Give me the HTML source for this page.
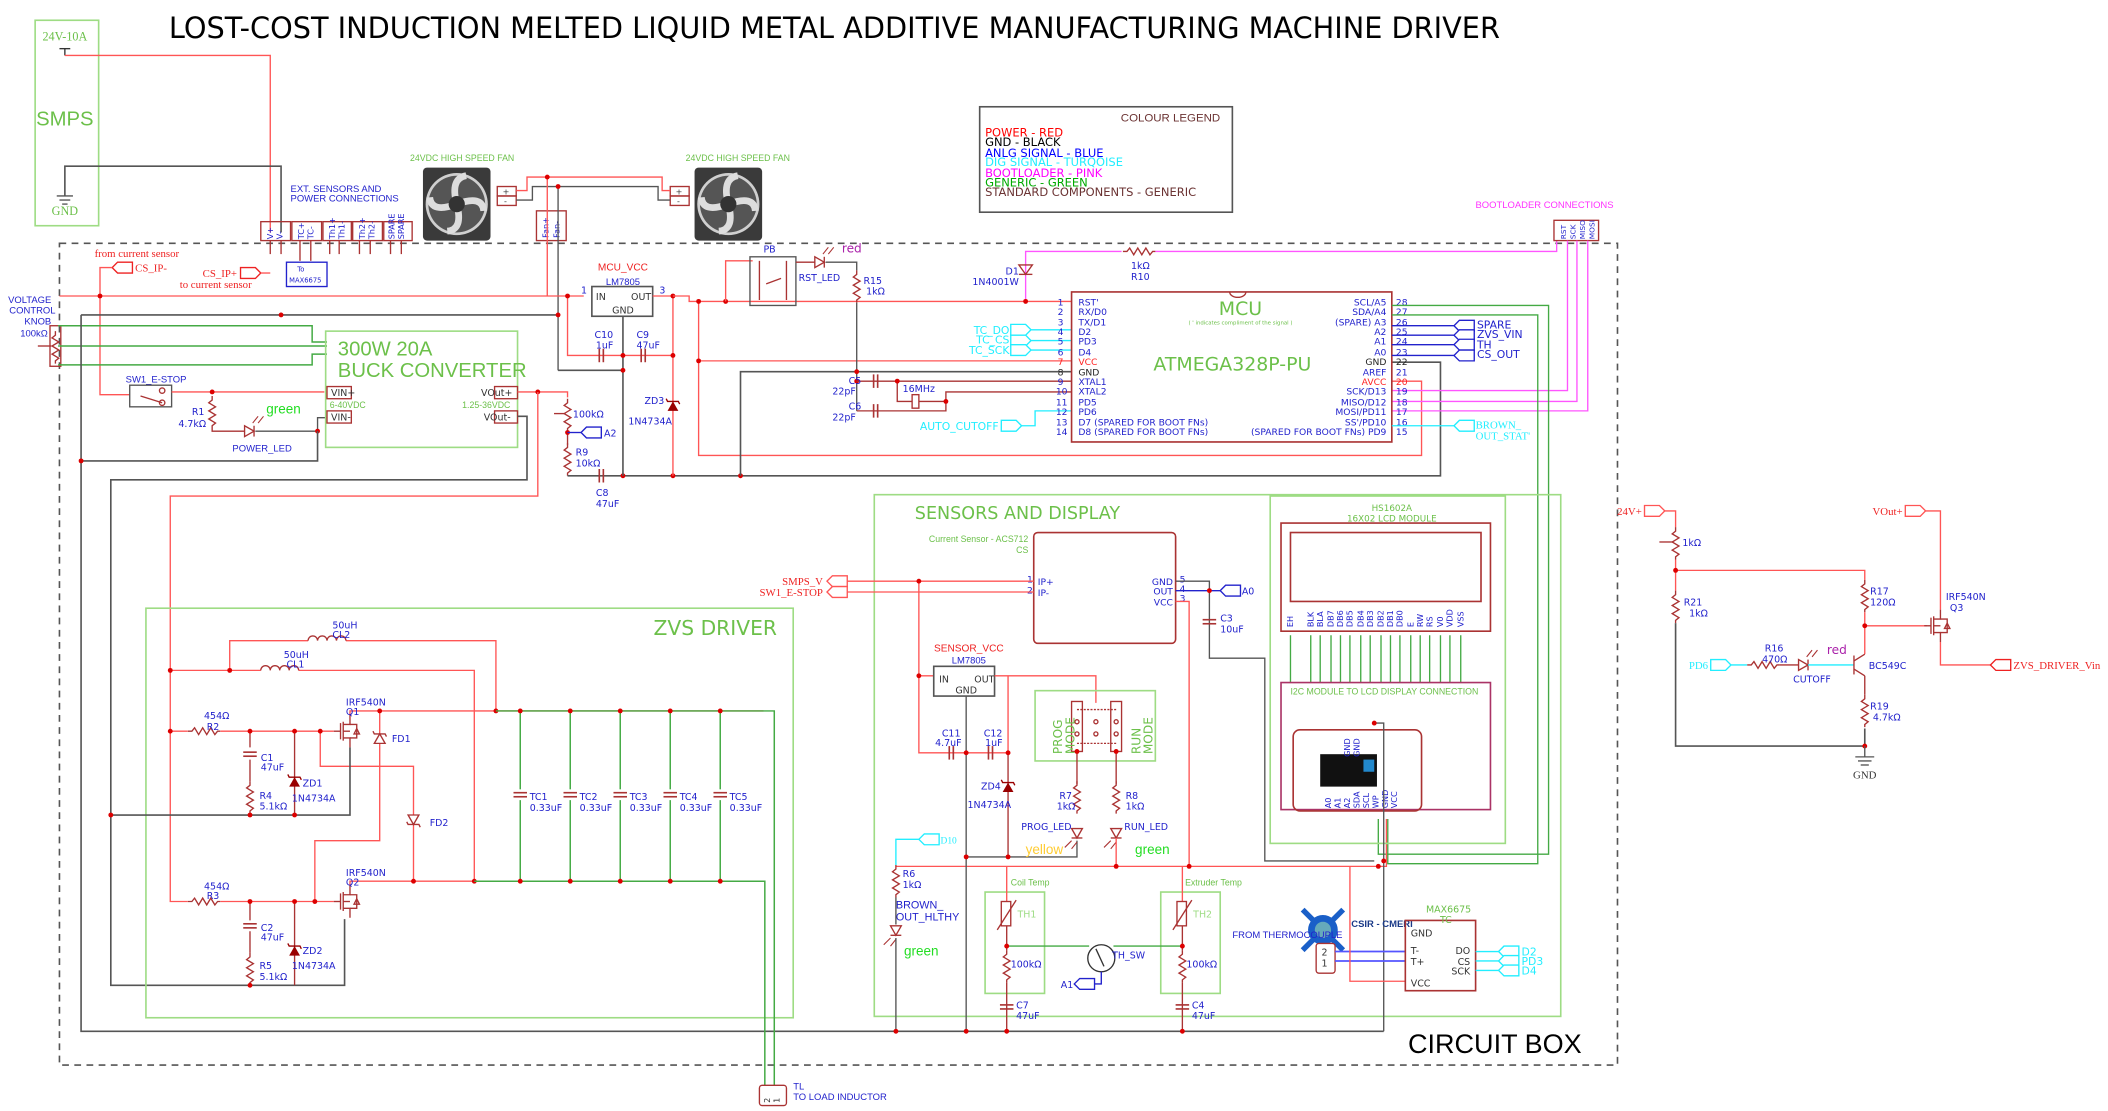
<!DOCTYPE html>
<html><head><meta charset="utf-8"><style>
html,body{margin:0;padding:0;background:#fff;}
svg{display:block;}
text{font-family:"DejaVu Sans","Liberation Sans",sans-serif;}
.s{font-family:"Liberation Serif",serif;}
.n{font-family:"Liberation Sans Narrow","Liberation Sans",sans-serif;}
</style></head><body>
<svg width="2108" height="1111" viewBox="0 0 1560 822" preserveAspectRatio="none" xmlns="http://www.w3.org/2000/svg">
<defs>
<polyline id="rv" points="0,0 0,3 -2.5,5 2.5,8 -2.5,11 2.5,14 -2.5,17 2.5,20 0,22 0,24" fill="none" stroke="#a33" stroke-width="1"/>
<polyline id="rh" points="0,0 3,0 5,-2.5 8,2.5 11,-2.5 14,2.5 17,-2.5 20,2.5 22,0 24,0" fill="none" stroke="#a33" stroke-width="1"/>
<g id="ch" stroke="#a33" stroke-width="1.2"><line x1="-1.5" y1="-5" x2="-1.5" y2="5"/><line x1="1.5" y1="-5" x2="1.5" y2="5"/></g>
<g id="cv" stroke="#a33" stroke-width="1.2"><line x1="-5" y1="-1.5" x2="5" y2="-1.5"/><line x1="-5" y1="1.5" x2="5" y2="1.5"/></g>
<g id="zd"><polygon points="-4,4 4,4 0,-3" fill="#900"/><polyline points="-5,-5 -4,-3 4,-3 5,-1" fill="none" stroke="#900" stroke-width="1"/></g>
<g id="led"><polygon points="-4,-4 -4,4 3,0" fill="none" stroke="#a33"/><line x1="3" y1="-4" x2="3" y2="4" stroke="#a33"/><line x1="2" y1="-6" x2="6" y2="-11" stroke="#a33" stroke-width=".8"/><line x1="6" y1="-6" x2="10" y2="-11" stroke="#a33" stroke-width=".8"/></g>
<g id="ledv"><polygon points="-4,-3 4,-3 0,4" fill="none" stroke="#a33"/><line x1="-4" y1="4" x2="4" y2="4" stroke="#a33"/><line x1="-4" y1="6" x2="-9" y2="11" stroke="#a33" stroke-width=".8"/><line x1="0" y1="7" x2="-4" y2="12" stroke="#a33" stroke-width=".8"/></g>
<g id="mos" fill="none" stroke="#a33" stroke-width="1"><line x1="-8" y1="0" x2="-3" y2="0"/><line x1="-3" y1="-6" x2="-3" y2="6"/><line x1="-1" y1="-7" x2="-1" y2="7"/><polyline points="-1,-5 4,-5 4,-12"/><polyline points="-1,5 4,5 4,12"/><line x1="-1" y1="0" x2="4" y2="0"/><polyline points="4,-5 9,-5 9,5 4,5"/><polygon points="7,2 11,2 9,-2"/></g>
<g id="tag"><polygon points="0,-4 11,-4 15,0 11,4 0,4" fill="#fff"/></g>
<g id="tagl"><polygon points="15,-4 4,-4 0,0 4,4 15,4" fill="#fff"/></g>
<g id="fan"><rect x="0" y="0" width="50" height="54" rx="3" fill="#3a3a3a"/><circle cx="25" cy="27" r="23" fill="#cfcfcf"/><circle cx="25" cy="27" r="21" fill="#555"/><path d="M25 27 Q20 8 32 6 M25 27 Q44 20 45 32 M25 27 Q30 46 18 47 M25 27 Q6 34 5 22" stroke="#ddd" stroke-width="5" fill="none"/><circle cx="25" cy="27" r="6" fill="#333"/></g>
</defs>

<text x="125" y="28" font-size="22" textLength="985" lengthAdjust="spacingAndGlyphs" fill="#000">LOST-COST INDUCTION MELTED LIQUID METAL ADDITIVE MANUFACTURING MACHINE DRIVER</text>

<rect x="26" y="15" width="47" height="152" fill="none" stroke="#9edc84" stroke-width="1.2"/>
<text x="48" y="30" class="s" font-size="9" fill="#6cc04a" text-anchor="middle">24V-10A</text>
<text x="48" y="93" font-size="15" fill="#6cc04a" text-anchor="middle" class="n">SMPS</text>
<text x="48" y="159" class="s" font-size="9" fill="#6cc04a" text-anchor="middle">GND</text>
<line x1="44" y1="36" x2="52" y2="36" stroke="#333"/><line x1="48" y1="36" x2="48" y2="41" stroke="#333"/>
<polyline points="48,41 200,41 200,172" fill="none" stroke="#f55" stroke-width="1"/>
<polyline points="48,145 48,123 208,123 208,172" fill="none" stroke="#555" stroke-width="1.2"/>
<g stroke="#555"><line x1="42" y1="145" x2="54" y2="145"/><line x1="44" y1="148" x2="52" y2="148"/><line x1="46" y1="151" x2="50" y2="151"/></g>

<rect x="44" y="180" width="1153" height="608" fill="none" stroke="#555" stroke-width="1.2" stroke-dasharray="5,4"/>
<text x="1042" y="779" font-size="20" class="n" fill="#000">CIRCUIT BOX</text>

<rect x="725" y="79" width="187" height="78" fill="none" stroke="#555" stroke-width="1.2"/>
<text x="903" y="90" font-size="8.5" fill="#6b3333" text-anchor="end" class="n">COLOUR LEGEND</text>
<g font-size="8.5" class="n">
<text x="729" y="101" fill="#f00">POWER - RED</text>
<text x="729" y="108" fill="#000">GND - BLACK</text>
<text x="729" y="116" fill="#00f">ANLG SIGNAL - BLUE</text>
<text x="729" y="123" fill="#2ef">DIG SIGNAL - TURQOISE</text>
<text x="729" y="131" fill="#f0f">BOOTLOADER - PINK</text>
<text x="729" y="138" fill="#0a0">GENERIC - GREEN</text>
<text x="729" y="145" fill="#6b3333">STANDARD COMPONENTS - GENERIC</text>
</g>

<text x="215" y="142" font-size="7" fill="#22c" class="n">EXT. SENSORS AND</text>
<text x="215" y="149" font-size="7" fill="#22c" class="n">POWER CONNECTIONS</text>
<g fill="none" stroke="#a33"><rect x="193" y="164" width="22" height="14"/><rect x="216" y="164" width="22" height="14"/><rect x="239" y="164" width="21" height="14"/><rect x="261" y="164" width="22" height="14"/><rect x="284" y="164" width="21" height="14"/></g>
<g font-size="6" fill="#22c">
<text transform="translate(202,177) rotate(-90)">V+</text><text transform="translate(209,177) rotate(-90)">V-</text>
<text transform="translate(225,177) rotate(-90)">TC+</text><text transform="translate(232,177) rotate(-90)">TC-</text>
<text transform="translate(248,177) rotate(-90)">Th1+</text><text transform="translate(255,177) rotate(-90)">Th1-</text>
<text transform="translate(270,177) rotate(-90)">Th2+</text><text transform="translate(277,177) rotate(-90)">Th2-</text>
<text transform="translate(292,177) rotate(-90)">SPARE</text><text transform="translate(299,177) rotate(-90)">SPARE</text>
</g>
<g stroke="#a33"><line x1="200" y1="178" x2="200" y2="188"/><line x1="208" y1="178" x2="208" y2="188"/><line x1="222" y1="178" x2="222" y2="193"/><line x1="230" y1="178" x2="230" y2="193"/><line x1="244" y1="178" x2="244" y2="188"/><line x1="251" y1="178" x2="251" y2="188"/><line x1="266" y1="178" x2="266" y2="188"/><line x1="274" y1="178" x2="274" y2="188"/><line x1="289" y1="178" x2="289" y2="188"/><line x1="297" y1="178" x2="297" y2="188"/></g>
<rect x="212" y="194" width="30" height="18" fill="none" stroke="#22c"/>
<text x="220" y="201" font-size="5" fill="#22c">To</text><text x="214" y="209" font-size="5" fill="#22c">MAX6675</text>

<use href="#fan" x="313" y="124"/><use href="#fan" x="514" y="124"/>
<text x="342" y="119" font-size="6.5" fill="#6cc04a" text-anchor="middle" class="n">24VDC HIGH SPEED FAN</text>
<text x="546" y="119" font-size="6.5" fill="#6cc04a" text-anchor="middle" class="n">24VDC HIGH SPEED FAN</text>
<g fill="none" stroke="#a33"><rect x="368" y="138" width="14" height="7"/><rect x="368" y="145" width="14" height="7"/><rect x="496" y="138" width="14" height="7"/><rect x="496" y="145" width="14" height="7"/><rect x="397" y="156" width="22" height="22"/></g>
<g font-size="6" fill="#333"><text x="372" y="144">+</text><text x="373" y="151">-</text><text x="500" y="144">+</text><text x="501" y="151">-</text></g>
<text transform="translate(406,176) rotate(-90)" font-size="6" fill="#22c">Fan+</text><text transform="translate(414,176) rotate(-90)" font-size="6" fill="#22c">Fan-</text>
<polyline points="382,141 390,141 390,131 490,131 490,141 496,141" fill="none" stroke="#f55"/>
<polyline points="382,148 394,148 394,138 487,138 487,148 496,148" fill="none" stroke="#555"/>
<line x1="405" y1="131" x2="405" y2="219" stroke="#f55"/>
<line x1="413" y1="138" x2="413" y2="274" stroke="#555"/>
<circle cx="405" cy="131" r="1.8" fill="#d00"/><circle cx="413" cy="138" r="1.8" fill="#d00"/>

<text x="70" y="190" font-size="8" fill="#e22" class="s">from current sensor</text>
<use href="#tagl" x="83" y="198" fill="none" stroke="#e22"/>
<text x="100" y="201" font-size="8" fill="#e22" class="s">CS_IP-</text>
<use href="#tag" x="178" y="202" stroke="#e22"/>
<text x="150" y="205" font-size="8" fill="#e22" class="s">CS_IP+</text>
<text x="133" y="213" font-size="8" fill="#e22" class="s">to current sensor</text>
<line x1="193" y1="202" x2="200" y2="202" stroke="#f55"/>
<polyline points="83,198 74,198 74,292 96,292" fill="none" stroke="#f55"/>
<text x="22" y="224" font-size="7" fill="#22c" text-anchor="middle" class="n">VOLTAGE</text>
<text x="24" y="232" font-size="7" fill="#22c" text-anchor="middle" class="n">CONTROL</text>
<text x="28" y="240" font-size="7" fill="#22c" text-anchor="middle" class="n">KNOB</text>
<text x="15" y="249" font-size="7" fill="#22c" class="n">100kΩ</text>
<rect x="37" y="241" width="8" height="30" fill="none" stroke="#a33"/>
<use href="#rv" x="41" y="245"/><line x1="28" y1="256" x2="38" y2="256" stroke="#a33"/>
<g fill="none" stroke="#4a4" stroke-width="1.1"><polyline points="43,241 231,241 231,253 242,253"/><polyline points="43,256 242,256"/><polyline points="43,270 231,270 231,262 242,262"/></g>
<line x1="44" y1="219" x2="432" y2="219" stroke="#f55"/>
<circle cx="74" cy="219" r="1.8" fill="#d00"/>
<line x1="60" y1="233" x2="413" y2="233" stroke="#555" stroke-width="1.2"/>
<circle cx="208" cy="233" r="1.8" fill="#d00"/><circle cx="413" cy="233" r="1.8" fill="#d00"/>
<polyline points="60,233 60,763 1024,763" fill="none" stroke="#555" stroke-width="1.2"/>

<text x="93" y="283" font-size="7" fill="#22c" class="n">SW1_E-STOP</text>
<rect x="96" y="285" width="31" height="16" fill="none" stroke="#555"/>
<circle cx="120" cy="289" r="2" fill="none" stroke="#a33"/><circle cx="120" cy="298" r="2" fill="none" stroke="#a33"/><line x1="104" y1="293" x2="120" y2="298" stroke="#a33"/>
<line x1="127" y1="290" x2="240" y2="290" stroke="#f55"/><circle cx="157" cy="290" r="1.8" fill="#d00"/>
<use href="#rv" x="157" y="293"/>
<text x="142" y="307" font-size="7" fill="#22c">R1</text><text x="132" y="316" font-size="7" fill="#22c">4.7kΩ</text>
<polyline points="157,317 157,319 181,319" fill="none" stroke="#a33"/><use href="#led" x="185" y="319"/>
<polyline points="189,319 235,319 235,309 242,309" fill="none" stroke="#555"/><circle cx="235" cy="319" r="1.8" fill="#d00"/>
<text x="197" y="306" font-size="10" fill="#2d2" class="n">green</text>
<text x="172" y="334" font-size="7" fill="#22c" class="n">POWER_LED</text>
<polyline points="60,341 235,341 235,319" fill="none" stroke="#555" stroke-width="1.2"/>
<circle cx="60" cy="341" r="1.8" fill="#d00"/>

<rect x="241" y="245" width="142" height="86" fill="none" stroke="#9edc84" stroke-width="1.2"/>
<text x="250" y="263" font-size="15" fill="#6cc04a" class="n">300W 20A</text>
<text x="250" y="279" font-size="15" fill="#6cc04a" class="n">BUCK CONVERTER</text>
<g fill="none" stroke="#a33"><rect x="242" y="286" width="18" height="9"/><rect x="242" y="304" width="18" height="9"/><rect x="366" y="286" width="17" height="9"/><rect x="366" y="304" width="17" height="9"/></g>
<g font-size="7" fill="#333" class="n"><text x="245" y="293">VIN+</text><text x="245" y="311">VIN-</text><text x="356" y="293">VOut+</text><text x="358" y="311">VOut-</text></g>
<text x="244" y="302" font-size="6.5" fill="#6cc04a" class="n">6-40VDC</text>
<text x="342" y="302" font-size="6.5" fill="#6cc04a" class="n">1.25-36VDC</text>
<polyline points="383,290 420,290 420,294" fill="none" stroke="#f55"/><circle cx="398" cy="290" r="1.8" fill="#d00"/>
<polyline points="398,290 398,367 126,367 126,667 139,667" fill="none" stroke="#f55"/>
<polyline points="383,308 390,308 390,355 82,355 82,729 255,729 255,680" fill="none" stroke="#555" stroke-width="1.2"/>
<use href="#rv" x="420" y="295"/><line x1="410" y1="306" x2="418" y2="306" stroke="#a33"/>
<text x="424" y="309" font-size="7" fill="#22c">100kΩ</text>
<line x1="420" y1="319" x2="420" y2="329" stroke="#a33"/><circle cx="420" cy="320" r="1.8" fill="#d00"/>
<line x1="420" y1="320" x2="430" y2="320" stroke="#22c"/><use href="#tagl" x="430" y="320" fill="none" stroke="#22c"/>
<text x="447" y="323" font-size="7" fill="#22c">A2</text>
<use href="#rv" x="420" y="328"/><text x="426" y="337" font-size="7" fill="#22c">R9</text><text x="426" y="345" font-size="7" fill="#22c">10kΩ</text>
<polyline points="420,352 1066,352 1066,268 1030,268" fill="none" stroke="#555" stroke-width="1.2"/>
<use href="#ch" x="445" y="352"/><text x="441" y="367" font-size="7" fill="#22c">C8</text><text x="441" y="375" font-size="7" fill="#22c">47uF</text>
<circle cx="461" cy="352" r="1.8" fill="#d00"/><circle cx="498" cy="352" r="1.8" fill="#d00"/><circle cx="548" cy="352" r="1.8" fill="#d00"/>

<text x="461" y="200" font-size="7.5" fill="#e22" text-anchor="middle" class="n">MCU_VCC</text>
<text x="461" y="211" font-size="7" fill="#22c" text-anchor="middle" class="n">LM7805</text>
<rect x="438" y="212" width="45" height="22" fill="#fff" stroke="#555" stroke-width="1.2"/>
<g font-size="7" fill="#333"><text x="441" y="222">IN</text><text x="467" y="222">OUT</text><text x="453" y="232">GND</text></g>
<text x="430" y="217" font-size="7" fill="#22c">1</text><text x="488" y="217" font-size="7" fill="#22c">3</text>
<polyline points="413,274 461,274 461,234" fill="none" stroke="#555" stroke-width="1.2"/>
<line x1="461" y1="274" x2="461" y2="352" stroke="#555" stroke-width="1.2"/>
<polyline points="483,219 498,219 498,352" fill="none" stroke="#f55"/>
<polyline points="420,219 420,263 498,263" fill="none" stroke="#f55"/>
<use href="#ch" x="445" y="263"/><use href="#ch" x="476" y="263"/>
<text x="440" y="250" font-size="7" fill="#22c">C10</text><text x="441" y="258" font-size="7" fill="#22c">1uF</text>
<text x="471" y="250" font-size="7" fill="#22c">C9</text><text x="471" y="258" font-size="7" fill="#22c">47uF</text>
<use href="#zd" x="498" y="300"/>
<text x="477" y="299" font-size="7" fill="#22c">ZD3</text><text x="465" y="314" font-size="7" fill="#22c">1N4734A</text>
<circle cx="420" cy="219" r="1.8" fill="#d00"/><circle cx="498" cy="219" r="1.8" fill="#d00"/><circle cx="461" cy="263" r="1.8" fill="#d00"/><circle cx="498" cy="263" r="1.8" fill="#d00"/><circle cx="461" cy="274" r="1.8" fill="#d00"/>

<polyline points="498,219 510,219 510,223 793,223" fill="none" stroke="#f55"/>
<polyline points="517,223 517,337 1052,337 1052,282 1030,282" fill="none" stroke="#f55"/>
<line x1="517" y1="267" x2="793" y2="267" stroke="#f55"/>
<circle cx="517" cy="223" r="1.8" fill="#d00"/><circle cx="537" cy="223" r="1.8" fill="#d00"/><circle cx="517" cy="267" r="1.8" fill="#d00"/>
<polyline points="537,223 537,193 557,193" fill="none" stroke="#f55"/>
<rect x="555" y="190" width="34" height="36" fill="none" stroke="#555"/>
<text x="565" y="187" font-size="7" fill="#22c">PB</text>
<path d="M562,193 L562,222 M582,193 L582,222" fill="none" stroke="#a33"/>
<line x1="567" y1="210" x2="578" y2="206" stroke="#a33"/>
<line x1="589" y1="194" x2="603" y2="194" stroke="#a33"/><use href="#led" x="607" y="194"/>
<text x="591" y="208" font-size="7" fill="#22c">RST_LED</text><text x="623" y="187" font-size="9" fill="#a2a">red</text>
<polyline points="611,194 634,194 634,200" fill="none" stroke="#555"/>
<use href="#rv" x="634" y="200"/><text x="639" y="210" font-size="7" fill="#22c">R15</text><text x="641" y="218" font-size="7" fill="#22c">1kΩ</text>
<line x1="634" y1="224" x2="634" y2="304" stroke="#555"/>
<polyline points="548,352 548,275 793,275" fill="none" stroke="#555" stroke-width="1.2"/>
<circle cx="634" cy="275" r="1.8" fill="#d00"/><circle cx="634" cy="282" r="1.8" fill="#d00"/>
<line x1="634" y1="282" x2="793" y2="282" stroke="#a33"/><use href="#ch" x="648" y="282"/>
<polyline points="634,304 700,304 700,290 793,290" fill="none" stroke="#a33"/><use href="#ch" x="648" y="304"/>
<polyline points="664,282 664,297 700,297" fill="none" stroke="#a33"/>
<rect x="675" y="292" width="5" height="10" fill="#fff" stroke="#a33"/>
<circle cx="664" cy="282" r="1.8" fill="#d00"/><circle cx="700" cy="297" r="1.8" fill="#d00"/>
<text x="628" y="284" font-size="7" fill="#22c">C5</text><text x="616" y="292" font-size="7" fill="#22c">22pF</text>
<text x="628" y="303" font-size="7" fill="#22c">C6</text><text x="616" y="311" font-size="7" fill="#22c">22pF</text>
<text x="668" y="290" font-size="7" fill="#22c">16MHz</text>
<g font-size="8" fill="#2ef" class="s" text-anchor="end"><text x="747" y="247">TC_DO</text><text x="747" y="254">TC_CS</text><text x="747" y="262">TC_SCK</text><text x="739" y="318">AUTO_CUTOFF</text></g>
<g fill="none" stroke="#2ef"><use href="#tag" x="748" y="244"/><use href="#tag" x="748" y="252"/><use href="#tag" x="748" y="259"/><use href="#tag" x="741" y="315"/>
<path d="M763,244 L793,244 M763,252 L793,252 M763,259 L793,259"/><polyline points="756,315 766,315 766,304 793,304"/></g>

<polyline points="759,223 759,186 1152,186 1152,178" fill="none" stroke="#f5f"/>
<polygon points="754,196 764,196 759,203" fill="none" stroke="#a33"/><line x1="754" y1="203" x2="764" y2="203" stroke="#a33"/>
<circle cx="759" cy="223" r="1.8" fill="#d00"/>
<text x="754" y="203" font-size="7" fill="#22c" text-anchor="end">D1</text><text x="754" y="211" font-size="7" fill="#22c" text-anchor="end">1N4001W</text>
<rect x="830" y="182" width="25" height="8" fill="#fff"/><use href="#rh" x="831" y="186"/>
<text x="837" y="199" font-size="7" fill="#22c">1kΩ</text><text x="837" y="207" font-size="7" fill="#22c">R10</text>
<text x="1143" y="154" font-size="7" fill="#f3f" text-anchor="middle" class="n">BOOTLOADER CONNECTIONS</text>
<rect x="1150" y="163" width="33" height="15" fill="none" stroke="#a33"/>
<g font-size="5.5" fill="#22c"><text transform="translate(1159,177) rotate(-90)">RST</text><text transform="translate(1166,177) rotate(-90)">SCK</text><text transform="translate(1173,177) rotate(-90)">MISO</text><text transform="translate(1180,177) rotate(-90)">MOSI</text></g>
<g fill="none" stroke="#f5f"><polyline points="1160,178 1160,289 1030,289"/><polyline points="1167,178 1167,297 1030,297"/><polyline points="1175,178 1175,304 1030,304"/></g>

<rect x="793" y="216" width="237" height="111" fill="#fff" stroke="#a33" stroke-width="1.2"/>
<path d="M910 216 A6 4 0 0 0 922 216" fill="none" stroke="#a33"/>
<text x="918" y="233" font-size="14" fill="#6cc04a" text-anchor="middle">MCU</text>
<text x="918" y="240" font-size="4" fill="#6cc04a" text-anchor="middle">( ' indicates compliment of the signal )</text>
<text x="912" y="274" font-size="14" fill="#6cc04a" text-anchor="middle">ATMEGA328P-PU</text>
<g font-size="6.8" fill="#22c">
<text x="798" y="226">RST'</text><text x="798" y="233">RX/D0</text><text x="798" y="241">TX/D1</text><text x="798" y="248">D2</text><text x="798" y="255">PD3</text><text x="798" y="263">D4</text><text x="798" y="270" fill="#f22">VCC</text><text x="798" y="278" fill="#222">GND</text><text x="798" y="285">XTAL1</text><text x="798" y="292">XTAL2</text><text x="798" y="300">PD5</text><text x="798" y="307">PD6</text><text x="798" y="315">D7 (SPARED FOR BOOT FNs)</text><text x="798" y="322">D8 (SPARED FOR BOOT FNs)</text>
</g>
<g font-size="6.8" fill="#22c" text-anchor="end">
<text x="787" y="226">1</text><text x="787" y="233">2</text><text x="787" y="241">3</text><text x="787" y="248">4</text><text x="787" y="255">5</text><text x="787" y="263">6</text><text x="787" y="270" fill="#f22">7</text><text x="787" y="278" fill="#222">8</text><text x="787" y="285">9</text><text x="790" y="292">10</text><text x="790" y="300">11</text><text x="790" y="307">12</text><text x="790" y="315">13</text><text x="790" y="322">14</text>
</g>
<g font-size="6.8" fill="#22c" text-anchor="end">
<text x="1026" y="226">SCL/A5</text><text x="1026" y="233">SDA/A4</text><text x="1026" y="241">(SPARE) A3</text><text x="1026" y="248">A2</text><text x="1026" y="255">A1</text><text x="1026" y="263">A0</text><text x="1026" y="270" fill="#222">GND</text><text x="1026" y="278">AREF</text><text x="1026" y="285" fill="#f22">AVCC</text><text x="1026" y="292">SCK/D13</text><text x="1026" y="300">MISO/D12</text><text x="1026" y="307">MOSI/PD11</text><text x="1026" y="315">SS'/PD10</text><text x="1026" y="322">(SPARED FOR BOOT FNs) PD9</text>
</g>
<g font-size="6.8" fill="#22c"><text x="1033" y="226">28</text><text x="1033" y="233">27</text><text x="1033" y="241">26</text><text x="1033" y="248">25</text><text x="1033" y="255">24</text><text x="1033" y="263">23</text><text x="1033" y="270" fill="#222">22</text><text x="1033" y="278">21</text><text x="1033" y="285" fill="#f22">20</text><text x="1033" y="292">19</text><text x="1033" y="300">18</text><text x="1033" y="307">17</text><text x="1033" y="315">16</text><text x="1033" y="322">15</text></g>
<g stroke="#22c" fill="none"><path d="M1030,241 L1078,241 M1030,248 L1078,248 M1030,255 L1078,255 M1030,263 L1078,263"/>
<use href="#tagl" x="1076" y="241"/><use href="#tagl" x="1076" y="248"/><use href="#tagl" x="1076" y="255"/><use href="#tagl" x="1076" y="263"/></g>
<g font-size="8" fill="#22c" class="s"><text x="1093" y="243">SPARE</text><text x="1093" y="250">ZVS_VIN</text><text x="1093" y="258">TH</text><text x="1093" y="265">CS_OUT</text></g>
<line x1="1030" y1="315" x2="1076" y2="315" stroke="#2ef"/><use href="#tagl" x="1076" y="315" fill="none" stroke="#2ef"/>
<text x="1092" y="317" font-size="8" fill="#2ef" class="s">BROWN_</text><text x="1092" y="325" font-size="8" fill="#2ef" class="s">OUT_STAT'</text>
<polyline points="1030,226 1146,226 1146,632 1020,632 1020,606" fill="none" stroke="#4a4"/>
<polyline points="1030,233 1138,233 1138,639 1027,639 1027,606" fill="none" stroke="#4a4"/>

<rect x="647" y="366" width="508" height="386" fill="none" stroke="#9edc84" stroke-width="1.2"/>
<text x="677" y="384" font-size="13" fill="#6cc04a">SENSORS AND DISPLAY</text>
<text x="761" y="401" font-size="6.5" fill="#6cc04a" text-anchor="end" class="n">Current Sensor - ACS712</text>
<text x="761" y="409" font-size="6.5" fill="#6cc04a" text-anchor="end" class="n">CS</text>
<rect x="765" y="394" width="105" height="82" rx="3" fill="none" stroke="#a33" stroke-width="1.2"/>
<g font-size="6.8" fill="#22c"><text x="768" y="433">IP+</text><text x="768" y="441">IP-</text><text x="760" y="431">1</text><text x="760" y="439">2</text>
<text x="868" y="433" text-anchor="end">GND</text><text x="868" y="440" text-anchor="end">OUT</text><text x="868" y="448" text-anchor="end">VCC</text><text x="873" y="431">5</text><text x="873" y="438">4</text><text x="873" y="445">3</text></g>
<g fill="none" stroke="#f55"><use href="#tagl" x="612" y="430"/><use href="#tagl" x="612" y="438"/></g>
<text x="609" y="433" font-size="8" fill="#e22" text-anchor="end" class="s">SMPS_V</text><text x="609" y="441" font-size="8" fill="#e22" text-anchor="end" class="s">SW1_E-STOP</text>
<path d="M627,430 L765,430 M627,438 L765,438" stroke="#f55" fill="none"/>
<path d="M680,430 L680,557 L705,557 M680,500 L691,500" stroke="#f55" fill="none"/><circle cx="680" cy="430" r="1.8" fill="#d00"/><circle cx="680" cy="500" r="1.8" fill="#d00"/>
<polyline points="870,430 895,430 895,487 936,487 936,637 1017,637" fill="none" stroke="#555"/>
<line x1="870" y1="437" x2="903" y2="437" stroke="#22c"/><use href="#tagl" x="903" y="437" fill="none" stroke="#22c"/><text x="919" y="440" font-size="7" fill="#22c">A0</text>
<circle cx="895" cy="437" r="1.8" fill="#d00"/><use href="#cv" x="895" y="460"/>
<text x="903" y="460" font-size="7" fill="#22c">C3</text><text x="903" y="468" font-size="7" fill="#22c">10uF</text>
<polyline points="870,445 880,445 880,641" fill="none" stroke="#f55"/>
<polyline points="663,641 1026,641 1026,606" fill="none" stroke="#f55"/>

<text x="717" y="482" font-size="7.5" fill="#e22" text-anchor="middle" class="n">SENSOR_VCC</text>
<text x="717" y="491" font-size="7" fill="#22c" text-anchor="middle" class="n">LM7805</text>
<rect x="691" y="493" width="45" height="22" fill="#fff" stroke="#555" stroke-width="1.2"/>
<g font-size="7" fill="#333"><text x="695" y="505">IN</text><text x="721" y="505">OUT</text><text x="707" y="513">GND</text></g>
<path d="M736,500 L746,500 L746,557 M746,500 L811,500 L811,520" fill="none" stroke="#f55"/>
<line x1="705" y1="557" x2="746" y2="557" stroke="#f55"/>
<use href="#ch" x="704" y="557"/><use href="#ch" x="733" y="557"/>
<text x="697" y="545" font-size="7" fill="#22c">C11</text><text x="692" y="552" font-size="7" fill="#22c">4.7uF</text><text x="728" y="545" font-size="7" fill="#22c">C12</text><text x="729" y="552" font-size="7" fill="#22c">1uF</text>
<line x1="715" y1="515" x2="715" y2="763" stroke="#555"/>
<polyline points="715,634 797,634 797,622" fill="none" stroke="#555"/>
<line x1="746" y1="557" x2="746" y2="634" stroke="#a33"/><use href="#zd" x="746" y="582"/>
<text x="726" y="584" font-size="7" fill="#22c">ZD4</text><text x="716" y="598" font-size="7" fill="#22c">1N4734A</text>
<circle cx="715" cy="557" r="1.8" fill="#d00"/><circle cx="746" cy="557" r="1.8" fill="#d00"/><circle cx="715" cy="634" r="1.8" fill="#d00"/><circle cx="746" cy="634" r="1.8" fill="#d00"/>
<rect x="766" y="511" width="89" height="52" fill="none" stroke="#9edc84" stroke-width="1.2"/>
<rect x="793" y="519" width="8" height="37" fill="none" stroke="#a33"/><rect x="822" y="519" width="8" height="37" fill="none" stroke="#a33"/>
<path d="M797,525 L826,525 M797,550 L826,550" fill="none" stroke="#a33" stroke-dasharray="1.5,1"/>
<g fill="none" stroke="#a33"><circle cx="797" cy="534" r="1.5"/><circle cx="797" cy="543" r="1.5"/><circle cx="811" cy="534" r="1.5"/><circle cx="811" cy="543" r="1.5"/><circle cx="826" cy="534" r="1.5"/><circle cx="826" cy="543" r="1.5"/></g>
<text transform="translate(786,558) rotate(-90)" font-size="9" fill="#6cc04a">PROG</text><text transform="translate(795,558) rotate(-90)" font-size="9" fill="#6cc04a">MODE</text>
<text transform="translate(844,558) rotate(-90)" font-size="9" fill="#6cc04a">RUN</text><text transform="translate(853,558) rotate(-90)" font-size="9" fill="#6cc04a">MODE</text>
<path d="M797,556 L797,580 M826,556 L826,580" stroke="#a33" fill="none"/>
<circle cx="797" cy="556" r="1.8" fill="#d00"/><circle cx="826" cy="556" r="1.8" fill="#d00"/>
<use href="#rv" x="797" y="578"/><use href="#rv" x="826" y="578"/>
<text x="784" y="591" font-size="7" fill="#22c">R7</text><text x="782" y="599" font-size="7" fill="#22c">1kΩ</text>
<text x="833" y="591" font-size="7" fill="#22c">R8</text><text x="833" y="599" font-size="7" fill="#22c">1kΩ</text>
<use href="#ledv" x="797" y="616"/><use href="#ledv" x="826" y="616"/>
<text x="793" y="614" font-size="7" fill="#22c" text-anchor="end">PROG_LED</text><text x="832" y="614" font-size="7" fill="#22c">RUN_LED</text>
<text x="759" y="632" font-size="10" fill="#fc3" class="n">yellow</text><text x="840" y="632" font-size="10" fill="#2d2" class="n">green</text>
<line x1="826" y1="620" x2="826" y2="641" stroke="#f55"/><circle cx="826" cy="641" r="1.8" fill="#d00"/><circle cx="880" cy="641" r="1.8" fill="#d00"/><circle cx="1020" cy="641" r="1.8" fill="#d00"/>
<use href="#tagl" x="680" y="621" fill="none" stroke="#2ef"/><polyline points="680,621 663,621 663,640" fill="none" stroke="#2ef"/>
<text x="696" y="624" font-size="7" fill="#2ef" class="s">D10</text>
<use href="#rv" x="663" y="640"/><text x="668" y="649" font-size="7" fill="#22c">R6</text><text x="668" y="657" font-size="7" fill="#22c">1kΩ</text>
<text x="663" y="672" font-size="8" fill="#22c" class="n">BROWN_</text><text x="663" y="681" font-size="8" fill="#22c" class="n">OUT_HLTHY</text>
<use href="#ledv" x="663" y="688"/><text x="669" y="707" font-size="10" fill="#2d2" class="n">green</text>
<path d="M663,664 L663,684 M663,694 L663,763" fill="none" stroke="#555"/>
<rect x="729" y="660" width="44" height="75" fill="none" stroke="#9edc84" stroke-width="1.2"/>
<rect x="859" y="660" width="44" height="75" fill="none" stroke="#9edc84" stroke-width="1.2"/>
<text x="748" y="655" font-size="6.5" fill="#6cc04a" class="n">Coil Temp</text><text x="877" y="655" font-size="6.5" fill="#6cc04a" class="n">Extruder Temp</text>
<path d="M745,641 L745,667 M875,641 L875,667" fill="none" stroke="#f55"/>
<rect x="741" y="667" width="7" height="18" fill="none" stroke="#a33"/><line x1="738" y1="688" x2="752" y2="666" stroke="#a33"/>
<rect x="871" y="667" width="7" height="18" fill="none" stroke="#a33"/><line x1="868" y1="688" x2="882" y2="666" stroke="#a33"/>
<text x="753" y="679" font-size="7" fill="#9edc84">TH1</text><text x="883" y="679" font-size="7" fill="#9edc84">TH2</text>
<path d="M745,685 L745,703 M875,685 L875,703" fill="none" stroke="#a33"/>
<path d="M745,700 L806,700 M824,700 L875,700" fill="none" stroke="#4a4"/>
<circle cx="745" cy="700" r="1.8" fill="#d00"/><circle cx="875" cy="700" r="1.8" fill="#d00"/>
<use href="#rv" x="745" y="703"/><use href="#rv" x="875" y="703"/>
<text x="748" y="716" font-size="7" fill="#22c">100kΩ</text><text x="878" y="716" font-size="7" fill="#22c">100kΩ</text>
<circle cx="815" cy="709" r="10" fill="none" stroke="#333"/><line x1="811" y1="702" x2="817" y2="715" stroke="#333"/>
<text x="823" y="709" font-size="7" fill="#22c">TH_SW</text>
<use href="#tagl" x="795" y="728" fill="none" stroke="#22c"/><text x="785" y="731" font-size="7" fill="#22c">A1</text>
<polyline points="810,728 815,728 815,719" fill="none" stroke="#22c"/>
<path d="M745,727 L745,763 M875,727 L875,763" fill="none" stroke="#a33"/>
<use href="#cv" x="745" y="745"/><use href="#cv" x="875" y="745"/>
<text x="752" y="746" font-size="7" fill="#22c">C7</text><text x="752" y="754" font-size="7" fill="#22c">47uF</text>
<text x="882" y="746" font-size="7" fill="#22c">C4</text><text x="882" y="754" font-size="7" fill="#22c">47uF</text>
<circle cx="663" cy="763" r="1.8" fill="#d00"/><circle cx="715" cy="763" r="1.8" fill="#d00"/><circle cx="745" cy="763" r="1.8" fill="#d00"/><circle cx="875" cy="763" r="1.8" fill="#d00"/>

<rect x="940" y="367" width="174" height="257" fill="none" stroke="#9edc84" stroke-width="1.2"/>
<text x="1030" y="378" font-size="6.5" fill="#6cc04a" text-anchor="middle">HS1602A</text>
<text x="1030" y="386" font-size="6.5" fill="#6cc04a" text-anchor="middle">16X02 LCD MODULE</text>
<rect x="948" y="387" width="155" height="80" fill="none" stroke="#a33" stroke-width="1.2"/>
<rect x="955" y="394" width="141" height="51" fill="none" stroke="#a33" stroke-width="1.2"/>
<g font-size="6" fill="#22c">
<text transform="translate(957,464) rotate(-90)">EH</text>
<text transform="translate(972,464) rotate(-90)">BLK</text><text transform="translate(979,464) rotate(-90)">BLA</text><text transform="translate(987,464) rotate(-90)">DB7</text><text transform="translate(994,464) rotate(-90)">DB6</text><text transform="translate(1001,464) rotate(-90)">DB5</text><text transform="translate(1009,464) rotate(-90)">DB4</text><text transform="translate(1016,464) rotate(-90)">DB3</text><text transform="translate(1024,464) rotate(-90)">DB2</text><text transform="translate(1031,464) rotate(-90)">DB1</text><text transform="translate(1038,464) rotate(-90)">DB0</text><text transform="translate(1046,464) rotate(-90)">E</text><text transform="translate(1053,464) rotate(-90)">RW</text><text transform="translate(1060,464) rotate(-90)">RS</text><text transform="translate(1068,464) rotate(-90)">V0</text><text transform="translate(1075,464) rotate(-90)">VDD</text><text transform="translate(1083,464) rotate(-90)">VSS</text>
</g>
<g stroke="#4a4"><line x1="955" y1="470" x2="955" y2="505"/><line x1="970" y1="470" x2="970" y2="505"/><line x1="977" y1="470" x2="977" y2="505"/><line x1="985" y1="470" x2="985" y2="505"/><line x1="992" y1="470" x2="992" y2="505"/><line x1="999" y1="470" x2="999" y2="505"/><line x1="1007" y1="470" x2="1007" y2="505"/><line x1="1014" y1="470" x2="1014" y2="505"/><line x1="1022" y1="470" x2="1022" y2="505"/><line x1="1029" y1="470" x2="1029" y2="505"/><line x1="1036" y1="470" x2="1036" y2="505"/><line x1="1044" y1="470" x2="1044" y2="505"/><line x1="1051" y1="470" x2="1051" y2="505"/><line x1="1058" y1="470" x2="1058" y2="505"/><line x1="1066" y1="470" x2="1066" y2="505"/><line x1="1073" y1="470" x2="1073" y2="505"/><line x1="1081" y1="470" x2="1081" y2="505"/></g>
<rect x="948" y="505" width="155" height="94" fill="none" stroke="#a36" stroke-width="1.2"/>
<text x="955" y="514" font-size="6.5" fill="#6cc04a" class="n">I2C MODULE TO LCD DISPLAY CONNECTION</text>
<rect x="957" y="540" width="95" height="60" rx="5" fill="none" stroke="#a33" stroke-width="1.2"/>
<rect x="977" y="558" width="42" height="24" fill="#111"/><rect x="1009" y="562" width="8" height="9" fill="#28c"/>
<g font-size="6" fill="#22c"><text transform="translate(999,560) rotate(-90)">GND</text><text transform="translate(1006,560) rotate(-90)">GND</text>
<text transform="translate(985,598) rotate(-90)">A0</text><text transform="translate(992,598) rotate(-90)">A1</text><text transform="translate(999,598) rotate(-90)">A2</text><text transform="translate(1006,598) rotate(-90)">SDA</text><text transform="translate(1013,598) rotate(-90)">SCL</text><text transform="translate(1020,598) rotate(-90)">WP</text><text transform="translate(1027,598) rotate(-90)">GND</text><text transform="translate(1034,598) rotate(-90)">VCC</text></g>
<polyline points="1017,535 1024,535 1024,763" fill="none" stroke="#555"/><circle cx="1017" cy="535" r="1.8" fill="#d00"/><circle cx="1024" cy="637" r="1.8" fill="#d00"/>

<g transform="translate(979,688)"><circle r="11" fill="#1a5fc8"/><g stroke="#1a5fc8" stroke-width="4"><line x1="-15" y1="-15" x2="15" y2="15"/><line x1="15" y1="-15" x2="-15" y2="15"/></g><circle r="6" fill="#6ab"/></g>
<text x="1000" y="686" font-size="7" fill="#1a3a88" font-weight="bold" class="n">CSIR - CMERI</text>
<text x="912" y="694" font-size="7" fill="#22c" class="n">FROM THERMOCOUPLE</text>
<rect x="974" y="698" width="14" height="22" rx="2" fill="#fff" stroke="#a33"/>
<text x="978" y="707" font-size="7" fill="#333">2</text><text x="978" y="715" font-size="7" fill="#333">1</text>
<path d="M988,704 L1040,704 M988,711 L1040,711" stroke="#55f" stroke-width="1.3"/>
<polyline points="999,641 999,726 1040,726" fill="none" stroke="#f55"/>
<rect x="1040" y="681" width="52" height="52" fill="none" stroke="#a33" stroke-width="1.2"/>
<text x="1072" y="675" font-size="7" fill="#6cc04a" text-anchor="middle">MAX6675</text><text x="1070" y="683" font-size="7" fill="#6cc04a" text-anchor="middle">TC</text>
<g font-size="7" fill="#333"><text x="1044" y="693">GND</text><text x="1044" y="706">T-</text><text x="1044" y="714">T+</text><text x="1044" y="730">VCC</text><text x="1088" y="706" text-anchor="end">DO</text><text x="1088" y="714" text-anchor="end">CS</text><text x="1088" y="721" text-anchor="end">SCK</text></g>
<g stroke="#2ef" fill="none"><path d="M1092,704 L1110,704 M1092,711 L1110,711 M1092,718 L1110,718"/><use href="#tagl" x="1109" y="704"/><use href="#tagl" x="1109" y="711"/><use href="#tagl" x="1109" y="718"/></g>
<g font-size="8" fill="#2ef" class="s"><text x="1126" y="707">D2</text><text x="1126" y="714">PD3</text><text x="1126" y="721">D4</text></g>

<rect x="108" y="450" width="479" height="303" fill="none" stroke="#9edc84" stroke-width="1.2"/>
<text x="575" y="470" font-size="15" fill="#6cc04a" text-anchor="end">ZVS DRIVER</text>
<g fill="none" stroke="#f55">
<path d="M126,496 L193,496 M221,496 L351,496 L351,652"/>
<path d="M170,496 L170,474 L228,474 M256,474 L367,474 L367,526"/>
<path d="M126,541 L139,541 M163,541 L247,541"/>
<path d="M163,667 L247,667"/>
<polyline points="259,529 259,526 565,526"/>
<polyline points="259,655 259,652 565,652"/>
<polyline points="281,526 281,622 233,622 233,667"/>
<polyline points="237,541 237,567 306,567 306,652"/>
</g>
<path d="M193,496 a3.5,3.5 0 0 1 7,0 a3.5,3.5 0 0 1 7,0 a3.5,3.5 0 0 1 7,0 a3.5,3.5 0 0 1 7,0" fill="none" stroke="#a33"/>
<path d="M228,474 a3.5,3.5 0 0 1 7,0 a3.5,3.5 0 0 1 7,0 a3.5,3.5 0 0 1 7,0 a3.5,3.5 0 0 1 7,0" fill="none" stroke="#a33"/>
<text x="210" y="487" font-size="7" fill="#22c">50uH</text><text x="212" y="494" font-size="7" fill="#22c">CL1</text>
<text x="246" y="465" font-size="7" fill="#22c">50uH</text><text x="246" y="472" font-size="7" fill="#22c">CL2</text>
<rect x="139" y="536" width="24" height="10" fill="#fff"/><use href="#rh" x="139" y="541"/>
<rect x="139" y="662" width="24" height="10" fill="#fff"/><use href="#rh" x="139" y="667"/>
<text x="151" y="532" font-size="7" fill="#22c">454Ω</text><text x="153" y="540" font-size="7" fill="#22c">R2</text>
<text x="151" y="658" font-size="7" fill="#22c">454Ω</text><text x="153" y="665" font-size="7" fill="#22c">R3</text>
<use href="#mos" x="255" y="541"/><use href="#mos" x="255" y="667"/>
<text x="256" y="522" font-size="7" fill="#22c">IRF540N</text><text x="256" y="529" font-size="7" fill="#22c">Q1</text>
<text x="256" y="648" font-size="7" fill="#22c">IRF540N</text><text x="256" y="655" font-size="7" fill="#22c">Q2</text>
<polyline points="82,603 259,603 259,553" fill="none" stroke="#555" stroke-width="1.2"/>
<path d="M185,541 L185,553 M185,562 L185,578 M218,541 L218,603 M185,667 L185,681 M185,689 L185,705 M218,667 L218,729" fill="none" stroke="#a33"/>
<use href="#cv" x="185" y="558"/><use href="#cv" x="185" y="685"/>
<use href="#rv" x="185" y="578"/><use href="#rv" x="185" y="705"/>
<use href="#zd" x="218" y="578"/><use href="#zd" x="218" y="703"/>
<g font-size="7" fill="#22c"><text x="193" y="563">C1</text><text x="193" y="570">47uF</text><text x="192" y="591">R4</text><text x="192" y="599">5.1kΩ</text><text x="224" y="582">ZD1</text><text x="216" y="593">1N4734A</text>
<text x="193" y="689">C2</text><text x="193" y="696">47uF</text><text x="192" y="717">R5</text><text x="192" y="725">5.1kΩ</text><text x="224" y="706">ZD2</text><text x="216" y="717">1N4734A</text>
<text x="290" y="549">FD1</text><text x="318" y="611">FD2</text></g>
<g transform="translate(281,546)"><polygon points="-4,4 4,4 0,-3" fill="#fff" stroke="#a33"/><polyline points="-5,-5 -4,-3 4,-3 5,-1" fill="none" stroke="#a33"/></g>
<g transform="translate(306,607) rotate(180)"><polygon points="-4,4 4,4 0,-3" fill="#fff" stroke="#a33"/><polyline points="-5,-5 -4,-3 4,-3 5,-1" fill="none" stroke="#a33"/></g>
<g fill="#d00"><circle cx="126" cy="496" r="1.8"/><circle cx="170" cy="496" r="1.8"/><circle cx="126" cy="541" r="1.8"/><circle cx="185" cy="541" r="1.8"/><circle cx="218" cy="541" r="1.8"/><circle cx="237" cy="541" r="1.8"/><circle cx="185" cy="603" r="1.8"/><circle cx="218" cy="603" r="1.8"/><circle cx="82" cy="603" r="1.8"/>
<circle cx="185" cy="667" r="1.8"/><circle cx="218" cy="667" r="1.8"/><circle cx="233" cy="667" r="1.8"/><circle cx="185" cy="729" r="1.8"/><circle cx="281" cy="526" r="1.8"/><circle cx="367" cy="526" r="1.8"/><circle cx="306" cy="652" r="1.8"/><circle cx="351" cy="652" r="1.8"/></g>
<g fill="none" stroke="#4a4" stroke-width="1.1"><polyline points="367,526 573,526 573,805"/><polyline points="351,652 566,652 566,805"/>
<line x1="385" y1="526" x2="385" y2="652"/><line x1="422" y1="526" x2="422" y2="652"/><line x1="459" y1="526" x2="459" y2="652"/><line x1="496" y1="526" x2="496" y2="652"/><line x1="533" y1="526" x2="533" y2="652"/></g>
<g><rect x="378" y="584" width="14" height="8" fill="#fff"/><use href="#cv" x="385" y="588"/><rect x="415" y="584" width="14" height="8" fill="#fff"/><use href="#cv" x="422" y="588"/><rect x="452" y="584" width="14" height="8" fill="#fff"/><use href="#cv" x="459" y="588"/><rect x="489" y="584" width="14" height="8" fill="#fff"/><use href="#cv" x="496" y="588"/><rect x="526" y="584" width="14" height="8" fill="#fff"/><use href="#cv" x="533" y="588"/></g>
<g font-size="7" fill="#22c"><text x="392" y="592">TC1</text><text x="392" y="600">0.33uF</text><text x="429" y="592">TC2</text><text x="429" y="600">0.33uF</text><text x="466" y="592">TC3</text><text x="466" y="600">0.33uF</text><text x="503" y="592">TC4</text><text x="503" y="600">0.33uF</text><text x="540" y="592">TC5</text><text x="540" y="600">0.33uF</text></g>
<g fill="#d00"><circle cx="385" cy="526" r="1.8"/><circle cx="422" cy="526" r="1.8"/><circle cx="459" cy="526" r="1.8"/><circle cx="496" cy="526" r="1.8"/><circle cx="533" cy="526" r="1.8"/><circle cx="385" cy="652" r="1.8"/><circle cx="422" cy="652" r="1.8"/><circle cx="459" cy="652" r="1.8"/><circle cx="496" cy="652" r="1.8"/><circle cx="533" cy="652" r="1.8"/></g>
<rect x="562" y="803" width="20" height="15" rx="2" fill="#fff" stroke="#a33"/>
<text transform="translate(570,816) rotate(-90)" font-size="6" fill="#333">2</text><text transform="translate(577,816) rotate(-90)" font-size="6" fill="#333">1</text>
<text x="587" y="806" font-size="7" fill="#22c" class="n">TL</text><text x="587" y="814" font-size="7" fill="#22c" class="n">TO LOAD INDUCTOR</text>

<use href="#tag" x="1217" y="378" fill="none" stroke="#f55"/>
<text x="1215" y="381" font-size="8" fill="#e22" text-anchor="end" class="s">24V+</text>
<path d="M1232,378 L1240,378 L1240,390 M1240,414 L1240,437 M1240,422 L1380,422 L1380,429" fill="none" stroke="#f55"/>
<use href="#rv" x="1240" y="390"/><line x1="1228" y1="401" x2="1238" y2="401" stroke="#a33"/><text x="1245" y="404" font-size="7" fill="#22c">1kΩ</text>
<use href="#rv" x="1240" y="437"/><text x="1246" y="448" font-size="7" fill="#22c">R21</text><text x="1250" y="456" font-size="7" fill="#22c">1kΩ</text>
<polyline points="1240,461 1240,552 1380,552 1380,539" fill="none" stroke="#555" stroke-width="1.2"/>
<use href="#rv" x="1380" y="429"/><text x="1384" y="440" font-size="7" fill="#22c">R17</text><text x="1384" y="448" font-size="7" fill="#22c">120Ω</text>
<path d="M1380,453 L1380,484 M1380,463 L1426,463" fill="none" stroke="#f55"/>
<circle cx="1240" cy="422" r="1.8" fill="#d00"/><circle cx="1380" cy="463" r="1.8" fill="#d00"/><circle cx="1380" cy="552" r="1.8" fill="#d00"/>
<use href="#mos" x="1432" y="463"/>
<text x="1440" y="444" font-size="7" fill="#22c">IRF540N</text><text x="1443" y="452" font-size="7" fill="#22c">Q3</text>
<use href="#tag" x="1410" y="378" fill="none" stroke="#f55"/><text x="1408" y="381" font-size="8" fill="#e22" text-anchor="end" class="s">VOut+</text>
<path d="M1425,378 L1436,378 L1436,451 M1436,475 L1436,492 L1473,492" fill="none" stroke="#f55"/>
<use href="#tagl" x="1473" y="492" fill="none" stroke="#e22"/><text x="1490" y="495" font-size="8" fill="#e22" class="s">ZVS_DRIVER_Vin</text>
<use href="#tag" x="1266" y="492" fill="none" stroke="#2ef"/><text x="1264" y="495" font-size="8" fill="#2ef" text-anchor="end" class="s">PD6</text>
<line x1="1281" y1="492" x2="1293" y2="492" stroke="#2ef"/>
<use href="#rh" x="1293" y="492"/><text x="1306" y="482" font-size="7" fill="#22c">R16</text><text x="1304" y="490" font-size="7" fill="#22c">470Ω</text>
<line x1="1317" y1="492" x2="1331" y2="492" stroke="#a33"/><use href="#led" x="1335" y="492"/>
<text x="1352" y="484" font-size="9" fill="#a2a">red</text><text x="1327" y="505" font-size="7" fill="#22c">CUTOFF</text>
<line x1="1338" y1="492" x2="1372" y2="492" stroke="#2ef"/>
<line x1="1372" y1="485" x2="1372" y2="499" stroke="#a33"/><path d="M1380,484 L1372,489 M1372,495 L1380,500" fill="none" stroke="#a33"/>
<text x="1383" y="495" font-size="7" fill="#22c">BC549C</text>
<line x1="1380" y1="500" x2="1380" y2="514" stroke="#a33"/>
<use href="#rv" x="1380" y="514"/><text x="1384" y="525" font-size="7" fill="#22c">R19</text><text x="1386" y="533" font-size="7" fill="#22c">4.7kΩ</text>
<g stroke="#555"><line x1="1380" y1="552" x2="1380" y2="560"/><line x1="1373" y1="560" x2="1387" y2="560"/><line x1="1375" y1="563" x2="1385" y2="563"/><line x1="1377" y1="566" x2="1383" y2="566"/></g>
<text x="1380" y="576" font-size="8" fill="#333" text-anchor="middle" class="s">GND</text>
</svg>
</body></html>
